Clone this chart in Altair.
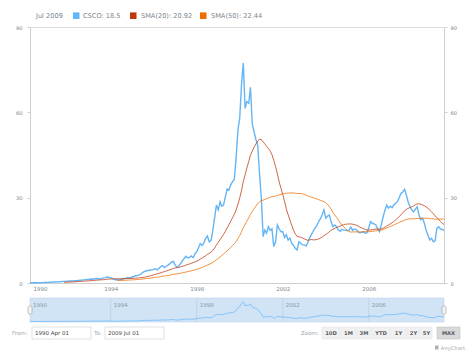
import altair as alt
import pandas as pd

# ---------------- data ----------------
START = "1990-04-01"
csco = [
    # 1990 (Apr-Dec)
    0.08, 0.09, 0.10, 0.11, 0.10, 0.09, 0.11, 0.13, 0.15,
    # 1991
    0.18, 0.22, 0.26, 0.30, 0.33, 0.36, 0.40, 0.44, 0.47, 0.52, 0.56, 0.60,
    # 1992
    0.66, 0.72, 0.70, 0.76, 0.82, 0.78, 0.88, 0.96, 1.02, 1.10, 1.18, 1.24,
    # 1993
    1.30, 1.40, 1.34, 1.48, 1.58, 1.50, 1.42, 1.60, 1.78, 1.90, 2.10, 2.00,
    # 1994
    1.80, 1.55, 1.25, 1.05, 1.15, 1.10, 1.30, 1.50, 1.62, 1.80, 1.90, 1.85,
    # 1995
    2.10, 2.30, 2.55, 2.65, 2.85, 3.20, 3.75, 4.05, 4.30, 4.40, 4.55, 4.60,
    # 1996
    4.80, 5.00, 4.60, 5.20, 5.80, 6.10, 5.40, 5.90, 6.30, 6.80, 7.40, 7.60,
    # 1997
    6.20, 5.50, 6.00, 6.80, 7.80, 8.60, 9.40, 8.80, 9.00, 9.50, 8.90, 10.20,
    # 1998
    11.0, 12.5, 13.8, 13.2, 14.0, 15.7, 16.5, 14.5, 15.0, 18.5, 23.0, 27.4,
    # 1999
    25.7, 28.6, 27.0, 27.4, 30.3, 33.0, 32.7, 34.5, 35.6, 36.5, 44.0, 53.8,
    # 2000
    58.0, 70.0, 77.3, 61.4, 63.8, 63.2, 68.8, 56.0, 53.0, 50.5, 48.5, 38.7,
    # 2001
    30.0, 16.3, 18.6, 17.5, 19.8, 18.5, 19.0, 12.8, 14.5, 20.4, 19.0, 18.0,
    # 2002
    18.0, 16.0, 17.0, 15.1, 15.8, 14.0, 13.2, 12.2, 11.6, 14.5, 14.0, 13.4,
    # 2003
    13.4, 13.0, 14.2, 15.8, 17.0, 18.2, 19.3, 20.2, 21.6, 22.5, 24.0, 25.7,
    # 2004
    22.8, 23.5, 23.9, 21.5, 19.8, 20.4, 19.8, 18.6, 18.2, 18.9, 18.6, 18.6,
    # 2005
    18.4, 18.6, 19.6, 18.5, 19.0, 18.8, 18.0, 17.7, 17.9, 18.0, 17.5, 17.7,
    # 2006
    19.5, 21.6, 21.0, 20.8, 20.4, 19.0, 18.0, 20.5, 23.3, 25.5, 27.4, 26.3,
    # 2007
    27.0, 26.5, 27.4, 28.0, 28.6, 30.0, 31.5, 32.0, 32.9, 30.9, 28.5, 26.8,
    # 2008
    25.7, 25.0, 26.0, 26.8, 24.0, 22.2, 22.8, 21.0, 18.5, 16.9, 15.1, 15.7,
    # 2009 (Jan-Jul)
    14.5, 14.8, 19.2, 19.8, 19.0, 18.8, 18.5,
]
sma_periods = [20, 50]
legend_date = "Jul 2009"
legend_names = ["CSCO", "SMA(20)", "SMA(50)"]
legend_values = ["18.5", "20.92", "22.44"]
y_ticks = [0, 30, 60, 90]
year_ticks = [1994, 1998, 2002, 2006]
first_year_label = "1990"
zoom_buttons = ["10D", "1M", "3M", "YTD", "1Y", "2Y", "5Y", "MAX"]
range_from = "1990 Apr 01"
range_to = "2009 Jul 01"

dates = pd.date_range(START, periods=len(csco), freq="MS")
df = pd.DataFrame({"date": dates, "price": csco})

# ---------------- style / layout ----------------
FONT = "DejaVu Sans"
BLUE = "#64b5f6"
RED = "#bf360c"
ORANGE = "#ef6c00"
TXT = "#7c868e"
LINE = "#cfcfcf"
W, H = 414, 256
SC_TOP, SC_BOT = 271, 295
CTRL_TOP, CTRL_BOT = 300, 312
CTRL_Y = 306


def dt(d):
    return alt.DateTime(year=int(d.year), month=int(d.month), date=int(d.day))


X_SCALE = alt.Scale(domain=[dt(dates[0]), dt(dates[-1])], nice=False)
X_AXIS = alt.Axis(
    values=[dt(dates[0])] + [alt.DateTime(year=y, month=1, date=1) for y in year_ticks],
    format="%Y", title=None, grid=False, ticks=False, domain=True,
    domainColor=LINE, domainWidth=1, labelColor=TXT, labelFont=FONT,
    labelFontSize=5.5, labelFlush=True, labelFlushOffset=-3, labelPadding=3,
)


def X(field="date"):
    return alt.X(f"{field}:T", scale=X_SCALE, axis=X_AXIS)


Y_SCALE = alt.Scale(domain=[0, 90], nice=False)


def y_axis(orient, pad):
    return alt.Axis(
        orient=orient, values=y_ticks, title=None, grid=False,
        domainColor=LINE, tickColor=LINE, tickSize=3, labelColor=TXT,
        labelFont=FONT, labelFontSize=5.2, labelPadding=pad,
    )


layers = []

# main price line
layers.append(
    alt.Chart(df).mark_line(color=BLUE, strokeWidth=1.4).encode(
        x=X(), y=alt.Y("price:Q", scale=Y_SCALE, axis=y_axis("left", 5))
    )
)

# SMA lines (computed by Vega-Lite window transform)
sma_base = alt.Chart(df).transform_window(
    rn="row_number()", sort=[alt.SortField("date")]
)
for i, (p, col) in enumerate(zip(sma_periods, [RED, ORANGE])):
    fld = f"sma{p}"
    layers.append(
        sma_base.transform_window(
            **{fld: "mean(price)"}, frame=[-(p - 1), 0], sort=[alt.SortField("date")]
        ).transform_filter(f"datum.rn >= {p}").mark_line(
            color=col, strokeWidth=0.9, opacity=0.85
        ).encode(
            x=X(),
            y=alt.Y(f"{fld}:Q", scale=Y_SCALE,
                    axis=y_axis("right", 3) if i == 0 else None),
        )
    )

# ---- scroller ----
scroll_df = pd.DataFrame({"date": [dates[0]], "date2": [dates[-1]]})
layers.append(
    alt.Chart(scroll_df).mark_rect(fill="#d1e4f6", stroke="#bcd3ee", strokeWidth=0.6).encode(
        x=X(), x2="date2:T", y=alt.value(SC_TOP), y2=alt.value(SC_BOT)
    )
)
yr_df = pd.DataFrame({"date": [pd.Timestamp(year=y, month=1, day=1) for y in year_ticks]})
layers.append(
    alt.Chart(yr_df).mark_rule(color="#b4c9e3", strokeWidth=0.6).encode(
        x=X(), y=alt.value(SC_TOP), y2=alt.value(SC_BOT)
    )
)
lab_df = pd.DataFrame({
    "date": [dates[0]] + list(yr_df["date"]),
    "label": [first_year_label] + [str(y) for y in year_ticks],
})
layers.append(
    alt.Chart(lab_df).mark_text(align="left", baseline="middle", dx=3, fontSize=5.5,
                                font=FONT, color="#8b97a3", fill="#8b97a3").encode(
        x=X(), y=alt.value(SC_TOP + 7), text="label:N"
    )
)
layers.append(
    alt.Chart(df).mark_line(color=BLUE, strokeWidth=0.7).encode(
        x=X(),
        y=alt.Y("price:Q", axis=None,
                scale=alt.Scale(domain=[0, 80], range=[SC_BOT - 0.5, SC_TOP + 3], nice=False)),
    )
)
ends_df = pd.DataFrame({"date": [dates[0], dates[-1]]})
layers.append(
    alt.Chart(ends_df).mark_rect(fill="#f4f4f4", stroke="#9a9a9a", strokeWidth=0.6,
                                 cornerRadius=1.5, xOffset=-2, x2Offset=2).encode(
        x=X(), x2="date:T", y=alt.value(SC_TOP + 8), y2=alt.value(SC_TOP + 16)
    )
)

# ---- legend (top) ----
def text_layer(txt, x, y, size, color, align="left", weight="normal"):
    return alt.Chart(pd.DataFrame({"t": [txt]})).mark_text(
        align=align, baseline="middle", fontSize=size, font=FONT, color=color,
        fill=color, fontWeight=weight,
    ).encode(text="t:N", x=alt.value(x), y=alt.value(y))


def box_layer(x1, x2, y1, y2, fill, stroke=None, sw=0.6):
    kw = dict(fill=fill)
    if stroke:
        kw.update(stroke=stroke, strokeWidth=sw)
    return alt.Chart(pd.DataFrame({"k": [0]})).mark_rect(**kw).encode(
        x=alt.value(x1), x2=alt.value(x2), y=alt.value(y1), y2=alt.value(y2)
    )


LEG_Y = -11.3
layers.append(text_layer(legend_date, 6, LEG_Y, 6.6, TXT))
for sx, tx, name, val, col in zip([43, 100, 170], [53, 111, 181], legend_names,
                                  legend_values, [BLUE, RED, ORANGE]):
    layers.append(box_layer(sx, sx + 6.5, LEG_Y - 3.3, LEG_Y + 3.3, col))
    layers.append(text_layer(f"{name}: {val}", tx, LEG_Y, 6.6, TXT))

# ---- range picker / zoom buttons ----
layers.append(text_layer("From:", -18, CTRL_Y, 5.5, "#a0a6ac"))
layers.append(box_layer(2, 61, CTRL_TOP, CTRL_BOT, "white", "#cccccc"))
layers.append(text_layer(range_from, 5, CTRL_Y, 5.5, "#444444"))
layers.append(text_layer("To:", 64, CTRL_Y, 5.5, "#a0a6ac"))
layers.append(box_layer(75, 134, CTRL_TOP, CTRL_BOT, "white", "#cccccc"))
layers.append(text_layer(range_to, 78, CTRL_Y, 5.5, "#444444"))
layers.append(text_layer("Zoom:", 271, CTRL_Y, 5.5, "#a0a6ac"))

btn_edges = [(292, 310), (311, 326), (327, 341), (342, 360), (361, 376),
             (377, 390), (391, 402), (407, 430)]
for lbl, (a, b) in zip(zoom_buttons, btn_edges):
    sel = lbl == "MAX"
    layers.append(box_layer(a, b, CTRL_TOP, CTRL_BOT,
                            "#d9d9d9" if sel else "#f1f1f1",
                            "#c4c4c4" if sel else "#e2e2e2"))
    layers.append(text_layer(lbl, (a + b) / 2, CTRL_Y, 5.2, "#555d66",
                             align="center", weight="bold"))

# credit (right-aligned so it stays inside the canvas)
layers.append(box_layer(405, 408.5, 318.5, 322.5, "#b0b0b0"))
layers.append(text_layer("AnyChart", 435, 320.5, 5.2, "#a8a8a8", align="right"))

chart = alt.layer(*layers).resolve_scale(y="independent").properties(
    width=W, height=H,
    padding={"left": 22, "top": 19, "right": 22, "bottom": 72},
    autosize=alt.AutoSizeParams(type="none"),
).configure_view(strokeWidth=0).configure(background="white")

chart.save("out.html", embed_options={"renderer": "svg", "actions": False})
